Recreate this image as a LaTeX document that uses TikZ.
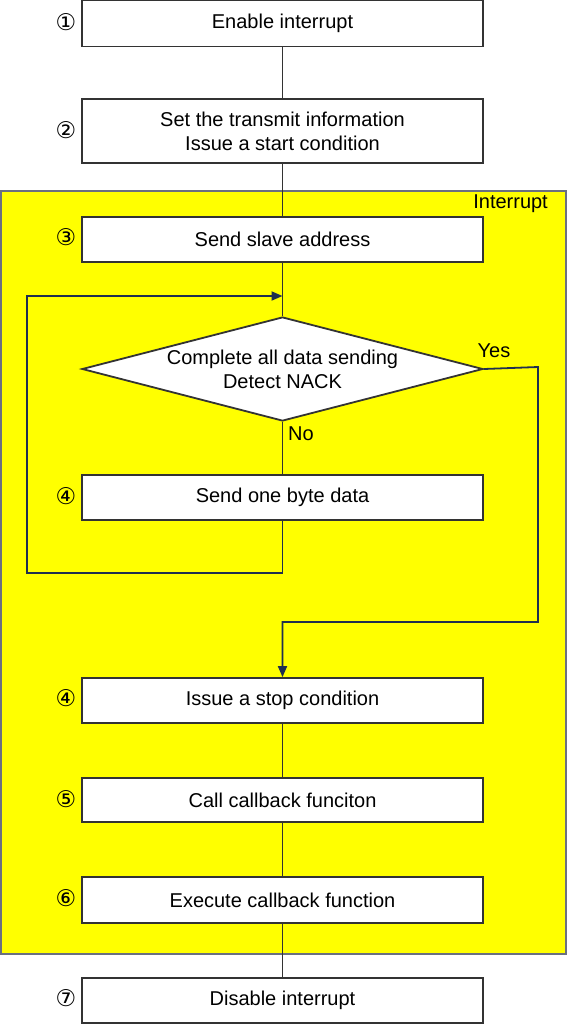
\documentclass[tikz,border=0pt]{standalone}
\usepackage{fontspec}
\setmainfont{Liberation Sans}
\newfontfamily\numfont{DejaVu Sans}
\usetikzlibrary{shapes.geometric,arrows.meta}
\definecolor{boxline}{HTML}{333333}
\definecolor{flowline}{HTML}{1F2F4F}
\definecolor{areafill}{HTML}{FFFF00}
\definecolor{arealine}{HTML}{6A7080}
\tikzset{
  x=1pt, y=-1pt,
  stepbox/.style={draw=boxline, line width=1.8pt, fill=white, minimum width=401pt, inner sep=0pt, font=\fontsize{20}{24}\selectfont, align=center},
  decision/.style={draw=boxline, line width=1.8pt, fill=white, diamond, aspect=3.856, minimum width=401pt, minimum height=104pt, inner sep=0pt, font=\fontsize{20}{24}\selectfont, align=center},
  link/.style={draw=boxline, line width=1.8pt},
  loopline/.style={draw=flowline, line width=1.8pt},
  arrowtip/.style={-{Triangle[length=11pt,width=9pt]}},
  num/.style={font=\numfont\fontsize{23}{23}\selectfont, inner sep=0pt},
  lbl/.style={font=\fontsize{20}{24}\selectfont, inner sep=0pt}
}
\begin{document}
\begin{tikzpicture}
\useasboundingbox (0,0) rectangle (569,1029);
% interrupt area
\draw[fill=areafill, draw=arealine, line width=1.5pt] (0.8,191) rectangle (566,954);
\node[lbl, anchor=east] (intlabel) at (548,204) {Interrupt};
% boxes
\node[stepbox, minimum height=46pt] (b1) at (282.5,23.5) {Enable interrupt};
\node[stepbox, minimum height=64pt] (b2) at (282.5,131) {Set the transmit information\\Issue a start condition};
\node[stepbox, minimum height=45pt] (b3) at (282.5,239.5) {Send slave address};
\node[decision] (d) at (282.5,369) {Complete all data sending\\Detect NACK};
\node[stepbox, minimum height=45pt] (b4) at (282.5,497.5) {Send one byte data};
\node[stepbox, minimum height=45pt] (b5) at (282.5,700.5) {Issue a stop condition};
\node[stepbox, minimum height=44pt] (b6) at (282.5,800) {Call callback funciton};
\node[stepbox, minimum height=46pt] (b7) at (282.5,900) {Execute callback function};
\node[stepbox, minimum height=45pt] (b8) at (282.5,1000.5) {Disable interrupt};
% numbers
\node[num] (n1) at (66,22) {①};
\node[num] (n2) at (66,130) {②};
\node[num] (n3) at (66,237) {③};
\node[num] (n4) at (66,496) {④};
\node[num] (n5) at (66,698) {④};
\node[num] (n6) at (66,799) {⑤};
\node[num] (n7) at (66,898) {⑥};
\node[num] (n8) at (66,998) {⑦};
% labels
\node[lbl] (yes) at (494,351) {Yes};
\node[lbl] (no) at (301,434) {No};
% connectors
\coordinate (merge) at (282.5,296);
\coordinate (loopL1) at (27,573);
\coordinate (loopL2) at (27,296);
\coordinate (yesR1) at (538,367);
\coordinate (yesR2) at (538,622);
\coordinate (yesB) at (282.5,622);
\draw[link] (b1.south) -- (b2.north);
\draw[link] (b2.south) -- (b3.north);
\draw[link] (b3.south) -- (d.north);
\draw[link] (d.south) -- (b4.north);
\draw[loopline, arrowtip] (b4.south) -- (b4.south |- loopL1) -- (loopL1) -- (loopL2) -- (merge);
\draw[loopline, arrowtip] (d.east) -- (yesR1) -- (yesR2) -- (yesB) -- (b5.north);
\draw[link] (b5.south) -- (b6.north);
\draw[link] (b6.south) -- (b7.north);
\draw[link] (b7.south) -- (b8.north);
\end{tikzpicture}
\end{document}
